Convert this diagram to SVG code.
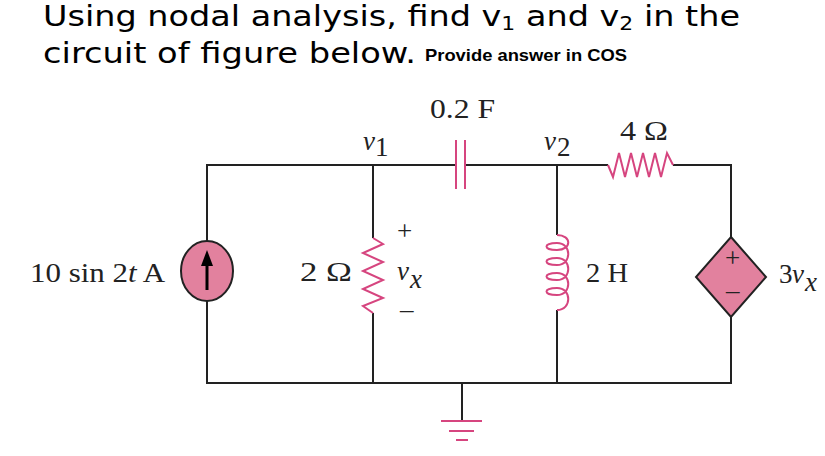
<svg xmlns="http://www.w3.org/2000/svg" width="825" height="456" viewBox="0 0 825 456">
<style>
.w{stroke:#222;stroke-width:2;fill:none}
.p{stroke:#d6457f;stroke-width:2;fill:none}
.t{font-family:"DejaVu Sans",sans-serif;font-size:29px;fill:#000}
.s{font-family:"Liberation Serif",serif;font-size:27px;fill:#222}
.i{font-family:"Liberation Serif",serif;font-style:italic;font-size:27px;fill:#222}
</style>
<rect width="825" height="456" fill="#fff"/>
<text class="t" x="43" y="26" textLength="697" lengthAdjust="spacingAndGlyphs">Using nodal analysis, find v<tspan font-size="19" dy="4">1</tspan><tspan dy="-4"> and v</tspan><tspan font-size="19" dy="4">2</tspan><tspan dy="-4"> in the</tspan></text>
<text class="t" x="43" y="63" textLength="373" lengthAdjust="spacingAndGlyphs">circuit of figure below.</text>
<text x="425" y="61" font-family="Liberation Sans,sans-serif" font-weight="bold" font-size="17" textLength="202" lengthAdjust="spacingAndGlyphs">Provide answer in COS</text>
<g id="wires">
<path class="w" d="M207,241V165H456M465,165H608M673,165H731V237M731,317V383H207V301M373,165V238M373,313V383M557,165V235M557,310V383M462,383V421"/>
</g>
<g id="src"><ellipse cx="207" cy="271" rx="26" ry="30" fill="#e2819e" stroke="#222" stroke-width="2"/><path d="M207,290V262" stroke="#000" stroke-width="3"/><path d="M201,266L207,250L213,266Z" fill="#000"/>
<text class="s" x="30" y="282" textLength="135" lengthAdjust="spacingAndGlyphs">10 sin 2<tspan font-style="italic">t</tspan> A</text></g>
<g id="r2"><path class="p" d="M373,238L383,244L363,253L383,262L363,271L383,280L363,289L383,298L363,306L373,313"/>
<text class="s" x="300" y="281" textLength="52" lengthAdjust="spacingAndGlyphs">2 Ω</text>
<text class="s" x="397" y="240">+</text><text class="i" x="397" y="280">v</text><text class="i" x="410" y="288" font-size="20">x</text><text class="s" x="400" y="318">–</text></g>
<g id="cap"><path class="p" d="M456,140V189M465,140V189"/><text class="s" x="430" y="118" textLength="65" lengthAdjust="spacingAndGlyphs">0.2 F</text></g>
<g id="n1"><text class="i" x="363" y="150">v</text><text class="s" x="375" y="156" font-size="21">1</text></g>
<g id="n2"><text class="i" x="544" y="150">v</text><text class="s" x="557" y="156" font-size="21">2</text></g>
<g id="r4"><path class="p" d="M608,165L613,177L619,153L625,177L631,153L637,177L643,153L649,177L655,153L661,177L667,153L673,165"/><text class="s" x="620" y="140" textLength="48" lengthAdjust="spacingAndGlyphs">4 Ω</text></g>
<g id="ind"><path class="p" d="M557,235C572,235 572,250 557,250C543,250 543,243 557,243C572,243 572,265 557,265C543,265 543,258 557,258C572,258 572,280 557,280C543,280 543,273 557,273C572,273 572,295 557,295C543,295 543,288 557,288C572,288 572,310 557,310"/><text class="s" x="586" y="282" textLength="42" lengthAdjust="spacingAndGlyphs">2 H</text></g>
<g id="dep"><path d="M731,237L766,277L731,317L696,277Z" fill="#e2819e" stroke="#222" stroke-width="2"/><text class="s" x="725" y="267" font-size="18">+</text><text class="s" x="726" y="299" font-size="18">–</text>
<text class="s" x="779" y="283">3</text><text class="i" x="792" y="283">v</text><text class="i" x="805" y="291" font-size="20">x</text></g>
<g id="gnd"><path class="p" d="M441,421H482M449,431H474M456,440H468"/></g>
</svg>
